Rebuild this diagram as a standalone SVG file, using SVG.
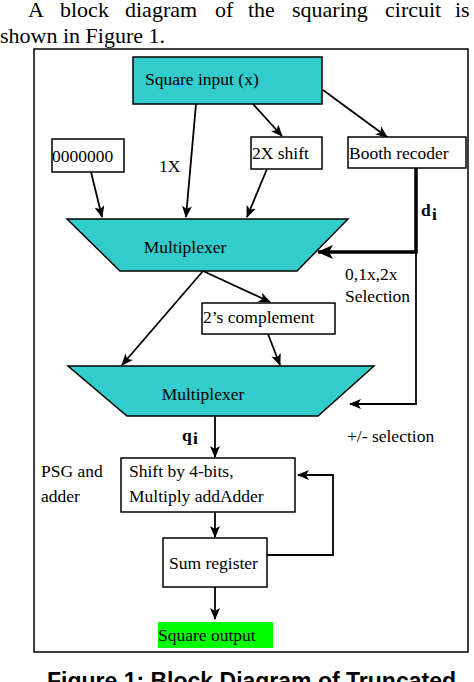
<svg xmlns="http://www.w3.org/2000/svg" width="474" height="682" viewBox="0 0 474 682">
<style>
text{font-family:"Liberation Serif","Times New Roman",serif;font-size:17.5px;fill:#000}
.para{font-size:22px}
.cap{font-family:"Liberation Sans",Arial,sans-serif;font-weight:bold;font-size:23px}
.b{font-weight:bold}
.box{fill:#fff;stroke:#000;stroke-width:1.5}
.teal{fill:#33CCCC;stroke:#000;stroke-width:1.5}
.c{fill:none;stroke:#000;stroke-width:1.8}
.thick{fill:none;stroke:#000;stroke-width:3.5}
</style>
<defs>
<marker id="ah" markerUnits="userSpaceOnUse" markerWidth="12" markerHeight="10" refX="11" refY="5" orient="auto">
<path d="M0,0 L12,5 L0,10 L3,5 z" fill="#000"/>
</marker>
<marker id="ahb" markerUnits="userSpaceOnUse" markerWidth="16" markerHeight="14" refX="15" refY="7" orient="auto">
<path d="M0,0 L16,7 L0,14 L4,7 z" fill="#000"/>
</marker>
</defs>
<rect width="474" height="682" fill="#fff"/>
<g id="paragraph">
<text class="para" x="28" y="17">A</text>
<text class="para" x="60" y="17">block</text>
<text class="para" x="125" y="17">diagram</text>
<text class="para" x="215" y="17">of</text>
<text class="para" x="248" y="17">the</text>
<text class="para" x="292" y="17">squaring</text>
<text class="para" x="385" y="17">circuit</text>
<text class="para" x="455" y="17">is</text>
<text class="para" x="0" y="43">shown in Figure 1.</text>
</g>
<rect id="frame" x="34" y="49" width="434" height="603" fill="none" stroke="#000" stroke-width="1.5"/>
<g id="connectors">
<line class="c" x1="196" y1="104" x2="186" y2="217" marker-end="url(#ah)"/>
<line class="c" x1="253" y1="104" x2="282" y2="136" marker-end="url(#ah)"/>
<line class="c" x1="323" y1="90" x2="387" y2="137" marker-end="url(#ah)"/>
<line class="c" x1="91" y1="172" x2="102" y2="217" marker-end="url(#ah)"/>
<line class="c" x1="267" y1="169" x2="247" y2="217" marker-end="url(#ah)"/>
<polyline class="thick" points="416,168 416,252 318,252" marker-end="url(#ahb)"/>
<polyline class="c" points="416,252 416,404 350,404" marker-end="url(#ah)"/>
<line class="c" x1="203" y1="271" x2="270" y2="302" marker-end="url(#ah)"/>
<line class="c" x1="203" y1="271" x2="122" y2="365" marker-end="url(#ah)"/>
<line class="c" x1="268" y1="334" x2="280" y2="365" marker-end="url(#ah)"/>
<line class="c" x1="215" y1="416" x2="215" y2="457" marker-end="url(#ah)"/>
<line class="c" x1="215" y1="512" x2="215" y2="537" marker-end="url(#ah)"/>
<polyline class="c" points="267,555 333,555 333,475 298,475" marker-end="url(#ah)"/>
<line class="c" x1="215" y1="587" x2="215" y2="619" marker-end="url(#ah)"/>
</g>
<g id="square-input">
<rect class="teal" x="133" y="57" width="189" height="47"/>
<text x="145" y="85">Square input (x)</text>
</g>
<g id="zeros">
<rect class="box" x="52" y="139" width="72" height="33"/>
<text x="52" y="162">0000000</text>
</g>
<g id="label-1x"><text x="159" y="172">1X</text></g>
<g id="shift2x">
<rect class="box" x="251" y="137" width="71" height="32"/>
<text x="252" y="159">2X shift</text>
</g>
<g id="booth">
<rect class="box" x="348" y="137" width="118" height="31"/>
<text x="349" y="159">Booth recoder</text>
</g>
<g id="label-di">
<text class="b" x="421" y="216" font-size="19">d</text>
<text class="b" x="432" y="220" font-size="12">i</text>
</g>
<g id="mux1">
<polygon class="teal" points="67,219 348,219 297,271 120,271"/>
<text x="185" y="253" text-anchor="middle">Multiplexer</text>
</g>
<g id="label-sel1">
<text x="345" y="280">0,1x,2x</text>
<text x="345" y="302">Selection</text>
</g>
<g id="twos">
<rect class="box" x="202" y="303" width="133" height="31"/>
<text x="203" y="323">2’s complement</text>
</g>
<g id="mux2">
<polygon class="teal" points="68,366 374,366 318,416 127,416"/>
<text x="203" y="400" text-anchor="middle">Multiplexer</text>
</g>
<g id="label-sel2"><text x="347" y="442">+/- selection</text></g>
<g id="label-qi">
<text class="b" x="182" y="441" font-size="19">q</text>
<text class="b" x="193" y="444" font-size="12">i</text>
</g>
<g id="label-psg">
<text x="41" y="477">PSG and</text>
<text x="41" y="502">adder</text>
</g>
<g id="shift4">
<rect class="box" x="121" y="458" width="174" height="54"/>
<text x="129" y="477">Shift by 4-bits,</text>
<text x="129" y="502">Multiply addAdder</text>
</g>
<g id="sumreg">
<rect class="box" x="163" y="538" width="104" height="49"/>
<text x="169" y="569">Sum register</text>
</g>
<g id="output">
<rect x="158" y="622" width="115" height="26" fill="#00FF00"/>
<text x="158" y="641">Square output</text>
</g>
<g id="caption"><text class="cap" x="47" y="689">Figure 1: Block Diagram of Truncated</text></g>
</svg>
